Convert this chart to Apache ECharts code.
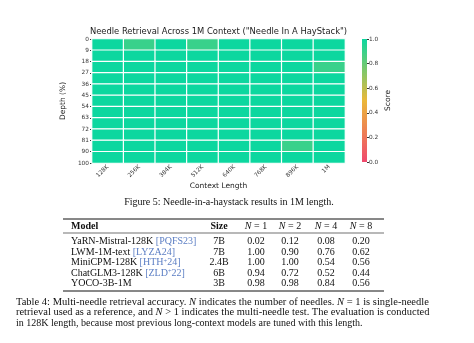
<!DOCTYPE html>
<html><head><meta charset="utf-8">
<script src="https://cdn.jsdelivr.net/npm/echarts@6/dist/echarts.min.js"></script>
<style>html,body{margin:0;padding:0;background:#fff}#c{width:474px;height:343px}</style>
</head><body><div id="c"></div>
<script>
// ---------- data ----------
const chartTitle = 'Needle Retrieval Across 1M Context ("Needle In A HayStack")';
const contextLengths = ['128K','256K','384K','512K','640K','768K','896K','1M'];
const depthRows = ['0','9','18','27','36','45','54','63','72','81','90'];
const depthTicks = [0,9,18,27,36,45,54,63,72,81,90,100];
const scoreRows = [
  [1.0,0.9,1.0,0.9,1.0,1.0,1.0,1.0],
  [1.0,1.0,1.0,1.0,1.0,1.0,1.0,1.0],
  [1.0,1.0,1.0,1.0,1.0,1.0,1.0,0.9],
  [1.0,1.0,1.0,1.0,1.0,1.0,1.0,1.0],
  [1.0,1.0,1.0,1.0,1.0,1.0,1.0,1.0],
  [1.0,1.0,1.0,1.0,1.0,1.0,1.0,1.0],
  [1.0,1.0,1.0,1.0,1.0,1.0,1.0,1.0],
  [1.0,1.0,1.0,1.0,1.0,1.0,1.0,1.0],
  [1.0,1.0,1.0,1.0,1.0,1.0,1.0,1.0],
  [1.0,1.0,1.0,1.0,1.0,1.0,0.9,1.0],
  [1.0,1.0,1.0,1.0,1.0,1.0,1.0,1.0]
];
const cmapColors = ['#F0496E','#EBB839','#0CD79F'];
const figCaption = 'Figure 5: Needle-in-a-haystack results in 1M length.';
const tableHeader = ['Model','Size','N = 1','N = 2','N = 4','N = 8'];
const models = ['YaRN-Mistral-128K','LWM-1M-text','MiniCPM-128K','ChatGLM3-128K','YOCO-3B-1M'];
const citations = ['PQFS23','LYZA24','HTH+24','ZLD+22',''];
const sizes = ['7B','7B','2.4B','6B','3B'];
const accN1 = ['0.02','1.00','1.00','0.94','0.98'];
const accN2 = ['0.12','0.90','1.00','0.72','0.98'];
const accN4 = ['0.08','0.76','0.54','0.52','0.84'];
const accN8 = ['0.20','0.62','0.56','0.44','0.56'];
const tableCaption = [
  'Table 4: Multi-needle retrieval accuracy. {i|N} indicates the number of needles. {i|N} = 1 is single-needle',
  'retrieval used as a reference, and {i|N} > 1 indicates the multi-needle test. The evaluation is conducted',
  'in 128K length, because most previous long-context models are tuned with this length.'
];

// ---------- build ----------
const chart = echarts.init(document.getElementById('c'));
const sans = 'DejaVu Sans';
const serif = 'Liberation Serif';
const heatData = [];
scoreRows.forEach((row, r) => row.forEach((v, c) => heatData.push([c, r, v])));

const serifSize = 10;
const richBase = {
  i: {fontFamily: serif, fontStyle: 'italic', fontSize: serifSize, fill: '#111'},
  c: {fontFamily: serif, fontSize: serifSize, fill: '#5b7ec4'},
  s: {fontFamily: serif, fontSize: 6.5, fill: '#5b7ec4', verticalAlign: 'top'}
};
const graphics = [];
const measureCtx = document.createElement('canvas').getContext('2d');
function txt(x, y, text, opts, fitWidth) {
  const el = {type: 'text', x: x, y: y, silent: true, style: Object.assign({
    text: text, fontFamily: serif, fontSize: serifSize, fill: '#111',
    textAlign: 'left', textVerticalAlign: 'middle', rich: richBase
  }, opts || {})};
  if (fitWidth) {
    measureCtx.font = serifSize + 'px "' + serif + '"';
    const plain = text.replace(/\{i\|([^}]*)\}/g, '$1');
    const w = measureCtx.measureText(plain).width;
    el.scaleX = fitWidth / w;
    el.originX = 0;
  }
  graphics.push(el);
}
function rule(y, w) {
  graphics.push({type: 'line', silent: true, shape: {x1: 63, y1: y, x2: 384, y2: y}, style: {stroke: '#111', lineWidth: w}});
}
// chart title
txt(218.5, 32, chartTitle, {fontFamily: sans, fontSize: 8.4, fill: '#1a1a1a', textAlign: 'center'});
// figure caption
txt(229, 202, figCaption, {textAlign: 'center'});
// table
const colX = [71, 219, 256, 290, 326, 361];
rule(219, 1);
rule(233, 0.6);
rule(291, 1);
const headY = 226.5;
txt(colX[0], headY, tableHeader[0], {fontWeight: 'bold'});
txt(colX[1], headY, tableHeader[1], {fontWeight: 'bold', textAlign: 'center'});
for (let k = 2; k < 6; k++) {
  txt(colX[k], headY, tableHeader[k].replace('N', '{i|N}'), {textAlign: 'center'});
}
const rowY0 = 241.5, rowStep = 10.5;
models.forEach((m, r) => {
  const y = rowY0 + r * rowStep;
  let name = m;
  if (citations[r]) {
    const parts = citations[r].split('+');
    name += ' {c|[' + parts[0] + '}' + (parts.length > 1 ? '{s|+}{c|' + parts[1] + ']}' : '{c|]}');
  }
  txt(colX[0], y, name);
  [sizes, accN1, accN2, accN4, accN8].forEach((arr, k) => txt(colX[k + 1], y, arr[r], {textAlign: 'center'}));
});
// table caption (first two lines justified)
const capY0 = 302, capStep = 10.5;
tableCaption.forEach((line, k) => txt(16, capY0 + k * capStep, line, {}, k < 2 ? 414 : 0));

const option = {
  animation: false,
  backgroundColor: '#fff',
  grid: [
    {left: 92, top: 39, width: 253, height: 124},
    {left: 362, top: 39, width: 5, height: 123}
  ],
  xAxis: [
    {type: 'category', gridIndex: 0, data: contextLengths,
     axisLine: {show: false}, splitLine: {show: false},
     axisTick: {alignWithLabel: true, length: 2, lineStyle: {color: '#333'}},
     axisLabel: {rotate: 45, fontSize: 5.8, fontFamily: sans, color: '#333', margin: 3},
     name: 'Context Length', nameLocation: 'middle', nameGap: 18,
     nameTextStyle: {fontFamily: sans, fontSize: 7.5, color: '#222'}},
    {type: 'category', gridIndex: 1, data: ['score'], show: false}
  ],
  yAxis: [
    {type: 'category', gridIndex: 0, data: depthRows, inverse: true, show: false},
    {type: 'value', gridIndex: 0, position: 'left', min: 0, max: 11, interval: 1, inverse: true,
     axisLine: {show: false}, splitLine: {show: false},
     axisTick: {show: true, length: 2, lineStyle: {color: '#333'}},
     axisLabel: {fontSize: 5.8, fontFamily: sans, color: '#333', margin: 3,
       formatter: v => String(depthTicks[v])},
     name: 'Depth (%)', nameLocation: 'middle', nameGap: 22, nameRotate: 90,
     nameTextStyle: {fontFamily: sans, fontSize: 7.5, color: '#222'}},
    {type: 'value', gridIndex: 1, min: 0, max: 1, interval: 0.2, position: 'right',
     axisLine: {show: false}, splitLine: {show: false},
     axisTick: {show: true, length: 2, lineStyle: {color: '#333'}},
     axisLabel: {fontSize: 5.8, fontFamily: sans, color: '#333', margin: 2,
       formatter: v => v.toFixed(1)},
     name: 'Score', nameLocation: 'middle', nameGap: 17, nameRotate: 90,
     nameTextStyle: {fontFamily: sans, fontSize: 7.5, color: '#222'}}
  ],
  visualMap: {show: false, min: 0, max: 1, seriesIndex: 0, inRange: {color: cmapColors}},
  series: [
    {type: 'heatmap', xAxisIndex: 0, yAxisIndex: 0, data: heatData,
     itemStyle: {borderColor: '#ffffff', borderWidth: 1.2}},
    {type: 'bar', xAxisIndex: 1, yAxisIndex: 2, data: [1], barWidth: '100%', silent: true,
     itemStyle: {color: new echarts.graphic.LinearGradient(0, 1, 0, 0, [
       {offset: 0, color: cmapColors[0]}, {offset: 0.5, color: cmapColors[1]}, {offset: 1, color: cmapColors[2]}])}}
  ],
  graphic: graphics
};
chart.setOption(option);
</script>
</body></html>
